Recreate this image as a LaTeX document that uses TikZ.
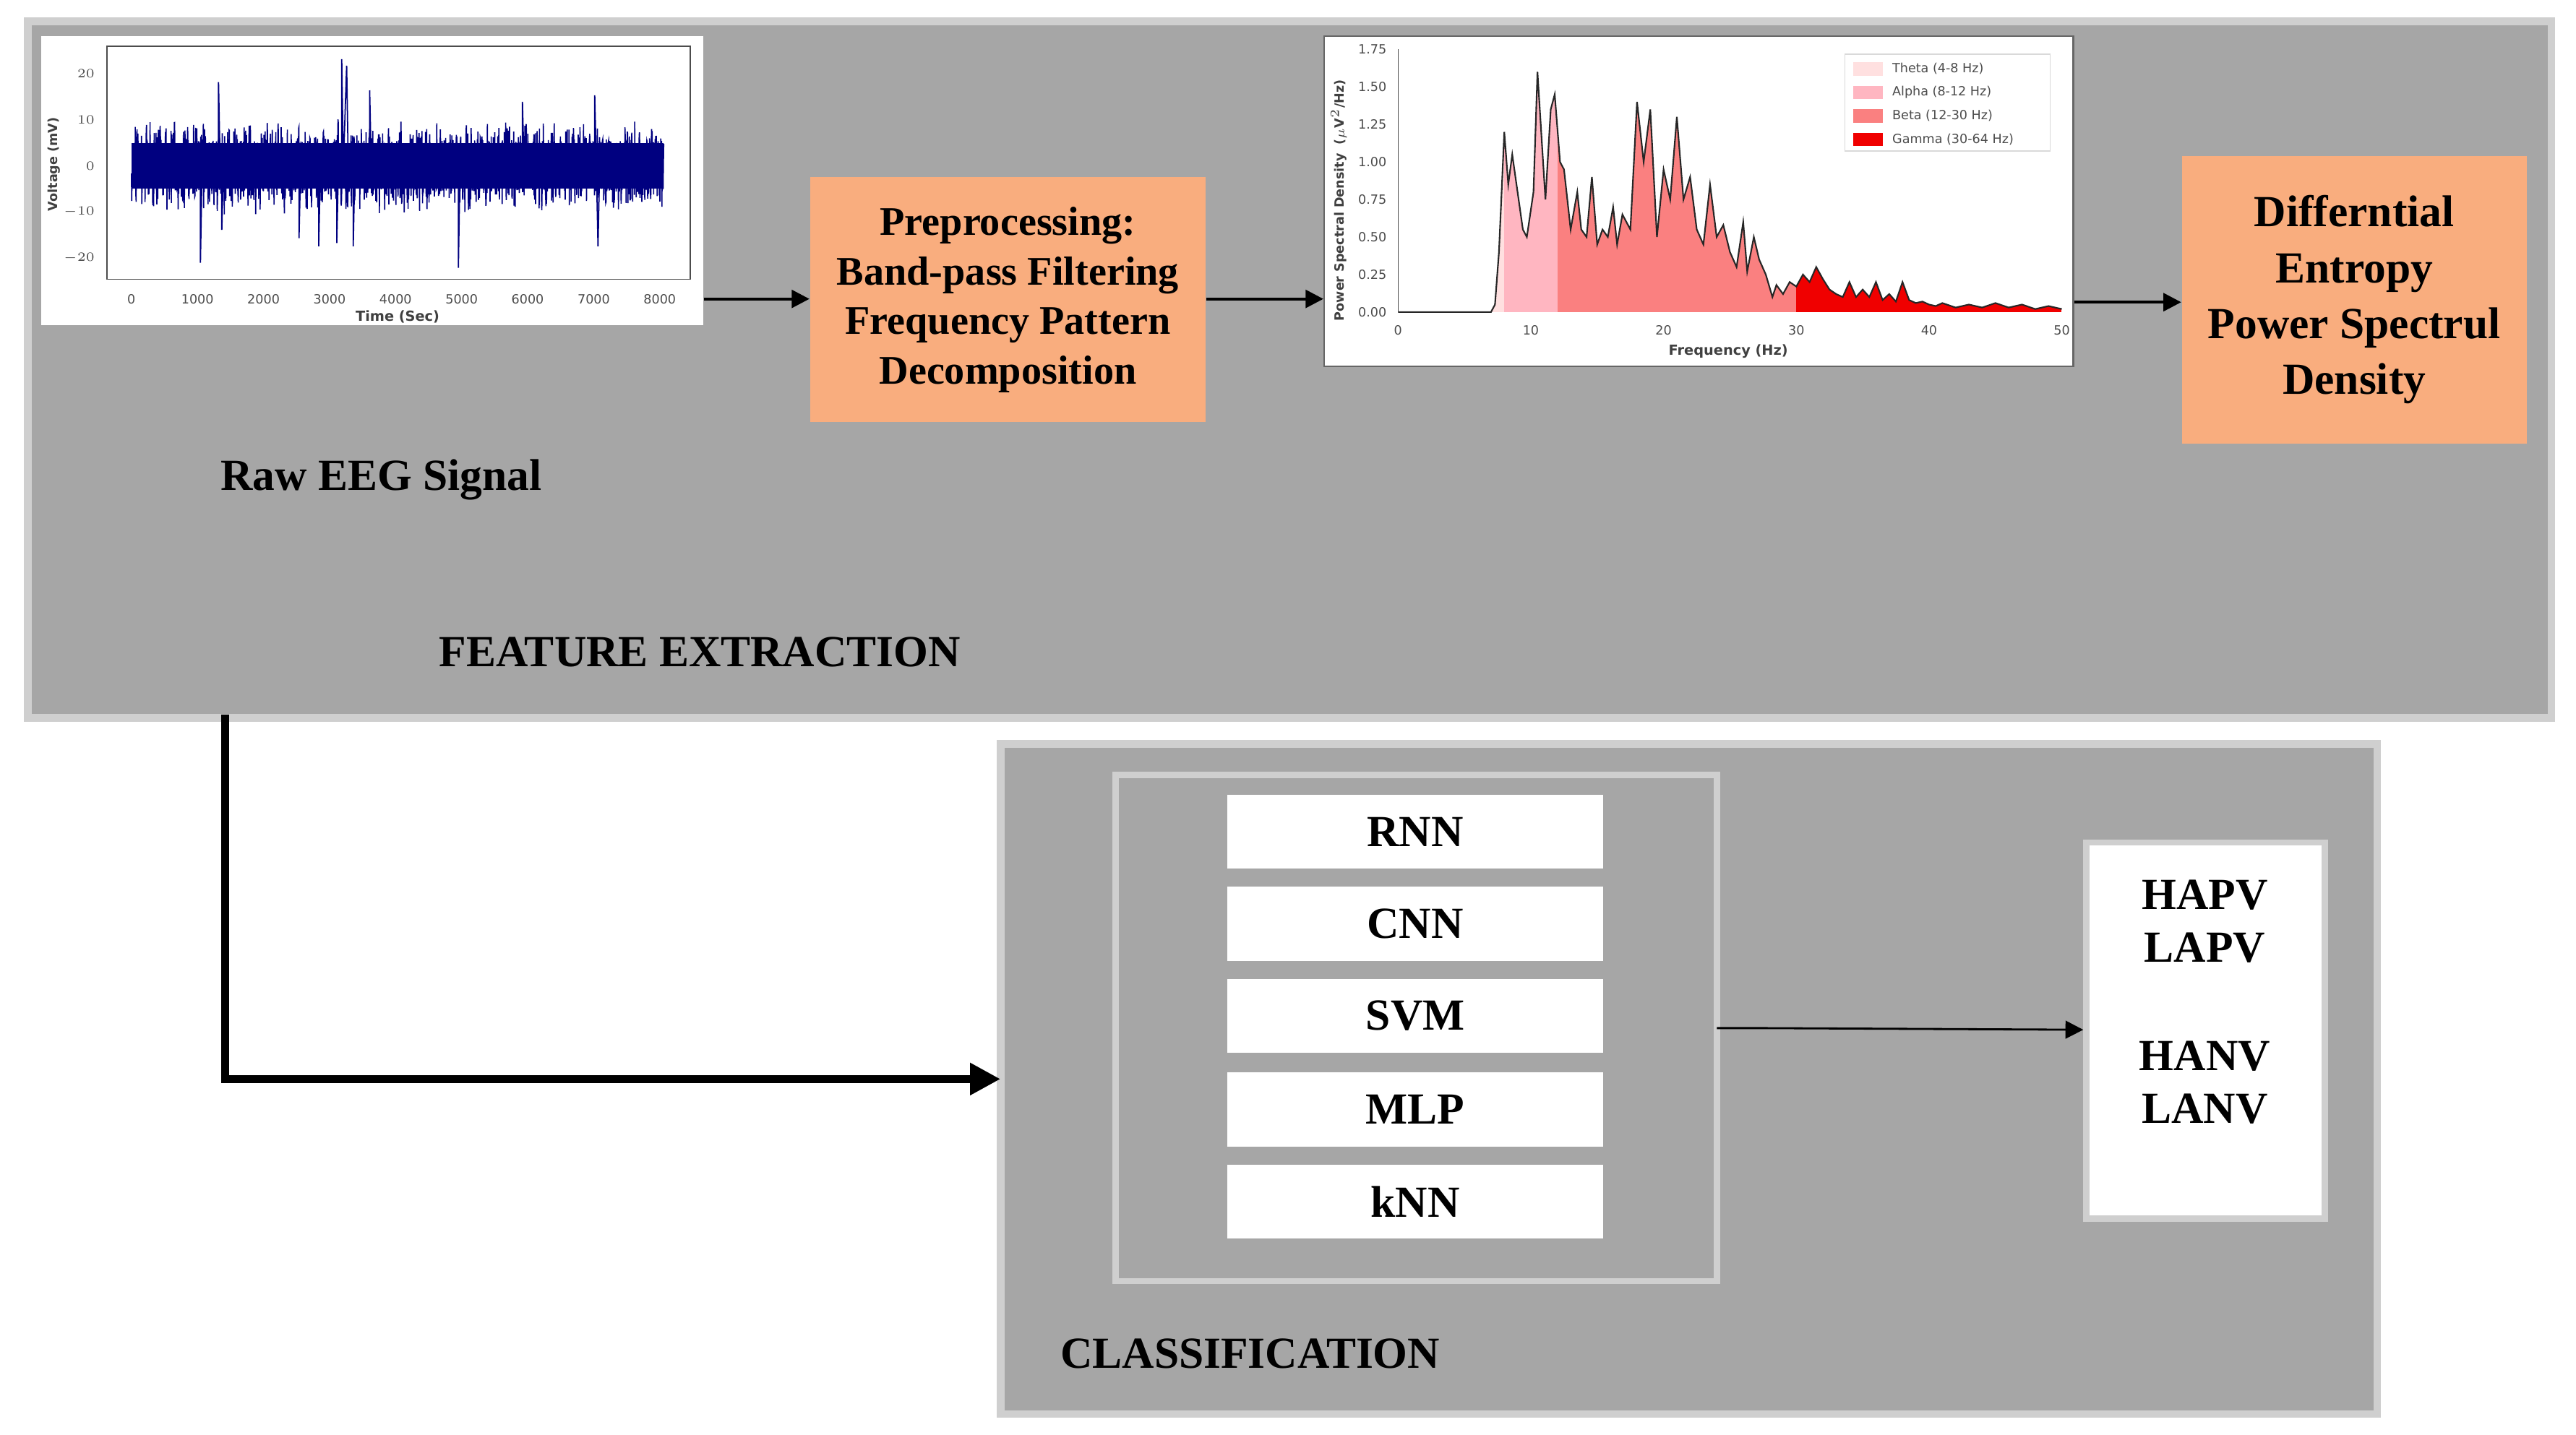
\documentclass[tikz,border=0pt]{standalone}
\usepackage{fontspec}
\setmainfont{Liberation Serif}
\newfontfamily\plotfont{DejaVu Sans}
\usetikzlibrary{arrows.meta}
\definecolor{panel}{HTML}{A6A6A6}
\definecolor{panelborder}{HTML}{CFCFCF}
\definecolor{orangebox}{HTML}{F9AD7E}
\definecolor{eegblue}{HTML}{000080}
\definecolor{thetac}{HTML}{FFE0E0}
\definecolor{alphac}{HTML}{FFB6C1}
\definecolor{betac}{HTML}{FA8080}
\definecolor{gammac}{HTML}{F00000}
\tikzset{
  panelbox/.style={fill=panel,draw=panelborder,line width=3pt},
  orbox/.style={fill=orangebox,draw=none,align=center,font=\fontsize{16}{19.5}\selectfont\bfseries},
  modelbox/.style={fill=white,draw=none,minimum width=229*0.02273cm,minimum height=45*0.02273cm,font=\fontsize{17.5}{20}\selectfont\bfseries},
  lbl/.style={font=\fontsize{17.5}{20}\selectfont\bfseries},
  arr/.style={-{Triangle[length=7pt,width=7pt]},line width=1.2pt},
  tick/.style={font=\plotfont\fontsize{5}{6}\selectfont,text=black!70},
}
\begin{document}
\begin{tikzpicture}[x=0.02273cm,y=-0.02273cm]
\useasboundingbox (0,0) rectangle (1568,873.7);
% top panel
\draw[panelbox] (17,13) rectangle (1553,437);
% EEG plot
\node[fill=white,minimum width=403*0.02273cm,minimum height=176*0.02273cm,inner sep=0] (eeg) at (226.5,110) {};
\draw[black!70,line width=0.5pt] (65,28) rectangle (420,170);
\pgfmathsetseed{7}
\draw[eegblue,line width=0.45pt] plot[domain=80:404,samples=1800] (\x,{101+30*rand*(0.5+0.5*rnd)});
\fill[eegblue] (80,87) rectangle (404,115);
\draw[eegblue,line width=0.5pt] (122,101)--(122,160)--(123,101) (135,101)--(135,140)--(136,101) (133,101)--(133,50)--(134,101) (208,101)--(208,36)--(209,101)--(211,40)--(212,101) (215,101)--(215,150)--(216,101) (225,101)--(225,55)--(226,101) (279,101)--(279,163)--(280,101) (362,101)--(362,58)--(363,101)--(364,150)--(365,101) (182,101)--(182,145)--(183,101) (194,101)--(194,150)--(195,101) (205,101)--(205,148)--(206,101) (318,101)--(318,62)--(319,101);
\foreach \v/\yy in {20/45,10/73,0/101,-10/129,-20/157}
  \node[tick,anchor=east] at (63,\yy) {$\v$};
\foreach \t [count=\i from 0] in {0,1000,2000,3000,4000,5000,6000,7000,8000}
  \node[tick] at (80+\i*40.2,182) {\t};
\node[font=\plotfont\bfseries\fontsize{5.5}{6}\selectfont,text=black!75] at (242,193) {Time (Sec)};
\node[font=\plotfont\bfseries\fontsize{5}{6}\selectfont,text=black!75,rotate=90] at (33,100) {Voltage (mV)};
% preprocessing
\node[orbox,minimum width=241*0.02273cm,minimum height=149*0.02273cm] (prep) at (613.5,182.5) {Preprocessing:\\Band-pass Filtering\\Frequency Pattern\\Decomposition};
% PSD plot
\node[fill=white,draw=black!60,line width=0.6pt,minimum width=456*0.02273cm,minimum height=201*0.02273cm,inner sep=0] (psd) at (1034,122.5) {};
\begin{scope}[shift={(851,190)},x={(8.08*0.02273cm,0)},y={(0,91.4*0.02273cm)}]
\def\curve{(0,0)--(7,0)--(7.3,0.05)--(7.6,0.4)--(8,1.2)--(8.3,0.85)--(8.6,1.05)--(9,0.8)--(9.4,0.55)--(9.7,0.5)--(10.2,0.8)--(10.5,1.6)--(11.1,0.75)--(11.5,1.35)--(11.8,1.45)--(12.2,1.0)--(12.5,0.95)--(13,0.55)--(13.5,0.8)--(13.8,0.55)--(14.2,0.5)--(14.6,0.9)--(15,0.45)--(15.4,0.55)--(15.8,0.5)--(16.2,0.7)--(16.5,0.45)--(16.9,0.65)--(17.5,0.55)--(18,1.4)--(18.5,1.0)--(19,1.35)--(19.5,0.5)--(20,0.95)--(20.5,0.75)--(21,1.3)--(21.5,0.75)--(22,0.9)--(22.5,0.55)--(23,0.45)--(23.5,0.85)--(24,0.5)--(24.5,0.58)--(25,0.4)--(25.5,0.3)--(26,0.6)--(26.3,0.27)--(26.8,0.5)--(27.2,0.35)--(27.7,0.25)--(28.2,0.1)--(28.5,0.18)--(29,0.12)--(29.5,0.2)--(30,0.17)--(30.5,0.25)--(31,0.2)--(31.5,0.3)--(32,0.22)--(32.5,0.15)--(33,0.12)--(33.5,0.1)--(34,0.2)--(34.5,0.1)--(35,0.15)--(35.5,0.1)--(36,0.2)--(36.5,0.08)--(37,0.12)--(37.5,0.07)--(38,0.2)--(38.5,0.08)--(39,0.06)--(39.5,0.07)--(40,0.05)--(40.5,0.04)--(41,0.06)--(42,0.03)--(43,0.05)--(44,0.03)--(45,0.06)--(46,0.03)--(47,0.05)--(48,0.02)--(49,0.04)--(50,0.02)}
\begin{scope}
\clip \curve--(50,0)--cycle;
\fill[thetac] (7,0) rectangle (8,2);
\fill[alphac] (8,0) rectangle (12,2);
\fill[betac] (12,0) rectangle (30,2);
\fill[gammac] (30,0) rectangle (50,2);
\end{scope}
\draw[black!85,line width=0.6pt] \curve;
\draw[black!70,line width=0.4pt] (0,0)--(0,1.75);
\foreach \v in {0.00,0.25,0.50,0.75,1.00,1.25,1.50,1.75}
  \node[tick,anchor=east] at (-0.2,\v) {\v};
\foreach \f in {0,10,20,30,40,50}
  \node[tick] at (\f,-0.12) {\f};
\end{scope}
\node[font=\plotfont\bfseries\fontsize{5.5}{6}\selectfont,text=black!75] at (1052,214) {Frequency (Hz)};
\node[font=\plotfont\bfseries\fontsize{5}{6}\selectfont,text=black!75,rotate=90] at (815,122) {Power Spectral Density\ \ ($\mu$V$^2$/Hz)};
\draw[black!15,fill=white] (1123,33) rectangle (1248,92);
\foreach \c/\t [count=\i from 0] in {thetac/Theta (4-8 Hz),alphac/Alpha (8-12 Hz),betac/Beta (12-30 Hz),gammac/Gamma (30-64 Hz)}{
  \fill[\c] (1128,38+\i*14.3) rectangle (1146,46+\i*14.3);
  \node[tick,anchor=west,inner sep=1pt] at (1150,42+\i*14.3) {\t};
}
% DE box
\node[orbox,font=\fontsize{17.5}{22}\selectfont\bfseries,minimum width=210*0.02273cm,minimum height=175*0.02273cm] (de) at (1433,182.5) {Differntial\\Entropy\\Power Spectrul\\Density};
\draw[arr] (eeg.east|-0,182) -- (prep.west|-0,182);
\draw[arr] (prep.east|-0,182) -- (psd.west|-0,182);
\draw[arr] (psd.east|-0,184) -- (de.west|-0,184);
\node[lbl] (raw) at (232,292) {Raw EEG Signal};
\node[lbl] (fe) at (426,397) {FEATURE EXTRACTION};
% bottom panel
\draw[panelbox] (609,453) rectangle (1447,861);
\draw[panelborder,line width=2.5pt] (679,472) rectangle (1045,780);
\node[modelbox] (rnn) at (861.5,506.5) {RNN};
\node[modelbox] (cnn) at (861.5,562.5) {CNN};
\node[modelbox] (svm) at (861.5,618.5) {SVM};
\node[modelbox] (mlp) at (861.5,675.5) {MLP};
\node[modelbox] (knn) at (861.5,731.5) {kNN};
\node[fill=white,draw=panelborder,line width=2.5pt,minimum width=145*0.02273cm,minimum height=229*0.02273cm] (out) at (1342.5,627.5) {};
\node[lbl] at (1342,545) {HAPV};
\node[lbl] at (1342,577) {LAPV};
\node[lbl] at (1342,643) {HANV};
\node[lbl] at (1342,675) {LANV};
\node[lbl] (cl) at (761,824) {CLASSIFICATION};
\coordinate (inr) at (1045,626);
\draw[arr,line width=0.8pt] (inr) -- (1075,626) -- (out.west|-0,627);
\coordinate (fs) at (137,435);
\coordinate (bend) at (137,657);
\draw[-{Triangle[length=12pt,width=12pt]},line width=3pt] (fs) -- (bend) -- (609,657);
\end{tikzpicture}
\end{document}
